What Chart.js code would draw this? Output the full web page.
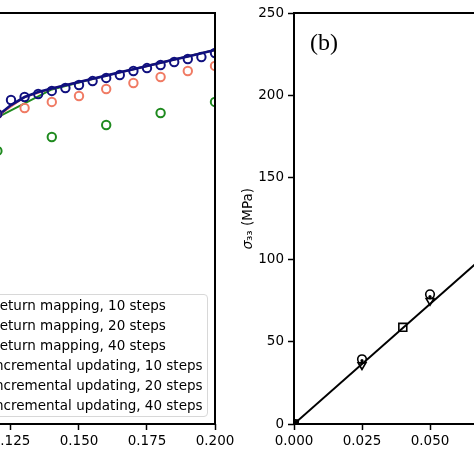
<!DOCTYPE html>
<html lang="en">
<head>
<meta charset="UTF-8">
<title>Stress-strain comparison</title>
<script src="https://cdn.jsdelivr.net/npm/chart.js"></script>
<style>
  body { margin: 0; background: #fff; }
  #fig { position: relative; width: 474px; height: 474px; overflow: hidden; background: #fff; font-family: "DejaVu Sans", sans-serif; }
  #fig canvas { position: absolute; top: 0; }
  #legenda { position: absolute; left: -60px; top: 294px; width: 268px; height: 123px; border: 1px solid #d8d8d8; border-radius: 4px; background: rgba(255,255,255,0.8); box-sizing: border-box; }
  #legenda div { position: absolute; left: 50px; height: 20px; line-height: 20px; font-size: 13.5px; white-space: nowrap; color: #000; }
</style>
</head>
<body>
<div id="fig">
  <canvas id="painelA" width="342" height="474"></canvas>
  <canvas id="painelB" width="356" height="474"></canvas>
  <div id="legenda"></div>
</div>

<script>
// ---- painel (a): deformacao x tensao, so a parte visivel ----
const labelsA = [
  'Return mapping, 10 steps',
  'Return mapping, 20 steps',
  'Return mapping, 40 steps',
  'Incremental updating, 10 steps',
  'Incremental updating, 20 steps',
  'Incremental updating, 40 steps'
];
const coresA = ['#1e8a1e', '#f07b64', '#10107f'];

const eps10 = [0.12, 0.14, 0.16, 0.18, 0.20];
const eps20 = [0.12, 0.13, 0.14, 0.15, 0.16, 0.17, 0.18, 0.19, 0.20];
const eps40 = [0.120, 0.125, 0.130, 0.135, 0.140, 0.145, 0.150, 0.155, 0.160,
               0.165, 0.170, 0.175, 0.180, 0.185, 0.190, 0.195, 0.200];

const rm10 = [186.5, 203.5, 211.9, 219.7, 227.5];
const rm20 = [187.3, 198.9, 204.1, 208.0, 211.9, 215.8, 219.7, 223.6, 227.5];
const rm40 = [187.3, 194.0, 198.9, 201.9, 204.1, 206.0, 208.0, 210.0, 211.9,
              213.9, 215.8, 217.8, 219.7, 221.7, 223.6, 225.5, 227.5];
const iu10 = [166.1, 174.6, 181.9, 189.2, 195.9];
const iu20 = [188.6, 192.2, 195.9, 199.5, 203.8, 207.4, 211.1, 214.7, 217.8];
const iu40 = [188.6, 197.1, 198.9, 200.7, 202.6, 204.4, 206.2, 208.6, 210.5,
              212.3, 214.7, 216.5, 218.4, 220.2, 222.0, 223.2, 225.7];

// ---- painel (b) ----
const linhaX = [0, 0.07];
const linhaY = [0, 102.2];
const circX = [0, 0.025, 0.05];
const circY = [0, 39.4, 78.9];
const triX = [0, 0.025, 0.05];
const triY = [0, 35.9, 75.0];
const quadX = [0, 0.04];
const quadY = [0, 58.8];
const pontoX = [0.025, 0.05];
const pontoY = [38.5, 77.5];

Chart.defaults.font.family = '"DejaVu Sans", sans-serif';
Chart.defaults.font.size = 13.5;
Chart.defaults.color = '#000';

const pares = (xs, ys) => xs.map((x, i) => ({ x: x, y: ys[i] }));

// moldura preta em volta da area do grafico (spines)
const moldura = {
  id: 'moldura',
  afterDatasetsDraw(chart) {
    const { ctx, chartArea: a } = chart;
    ctx.save();
    ctx.strokeStyle = '#000';
    ctx.lineWidth = 2;
    ctx.strokeRect(a.left, a.top, a.right - a.left, a.bottom - a.top);
    ctx.restore();
  }
};

const rotuloB = {
  id: 'rotuloB',
  afterDraw(chart) {
    const { ctx, chartArea: a } = chart;
    ctx.save();
    ctx.font = '24px "Liberation Serif", serif';
    ctx.fillStyle = '#000';
    ctx.textBaseline = 'alphabetic';
    ctx.fillText('(b)', a.left + 16, a.top + 37);
    ctx.restore();
  }
};

function eixoX(min, max) {
  return {
    type: 'linear', min: min, max: max,
    afterFit: s => { s.height = 50; },
    grid: { drawOnChartArea: false, tickLength: 6, tickWidth: 1.5, tickColor: '#000', color: '#000' },
    border: { display: false },
    ticks: { stepSize: 0.025, padding: 3, maxRotation: 0, callback: v => v.toFixed(3) }
  };
}
function eixoY(largura, titulo) {
  return {
    min: 0, max: 250,
    afterFit: s => { s.width = largura; },
    grid: { drawOnChartArea: false, tickLength: 6, tickWidth: 1.5, tickColor: '#000', color: '#000' },
    border: { display: false },
    ticks: { stepSize: 50, padding: 4 },
    title: { display: !!titulo, text: titulo || '', padding: 0, font: { size: 13.5 } }
  };
}
function opcoes(eX, eY) {
  return {
    responsive: false, animation: false, devicePixelRatio: 1,
    layout: { padding: { top: 13, right: 30, left: 0, bottom: 0 } },
    plugins: { legend: { display: false }, tooltip: { enabled: false } },
    scales: { x: eX, y: eY }
  };
}

// linhas (return mapping) e circulos (incremental updating)
const dsA = [];
[[eps10, rm10], [eps20, rm20], [eps40, rm40]].forEach((d, i) => {
  dsA.push({
    label: labelsA[i], data: pares(d[0], d[1]), showLine: true,
    borderColor: coresA[i], borderWidth: i === 2 ? 2.6 : 2, pointRadius: 0,
    clip: 0, order: 6 - i
  });
});
[[eps10, iu10], [eps20, iu20], [eps40, iu40]].forEach((d, i) => {
  dsA.push({
    label: labelsA[i + 3], data: pares(d[0], d[1]), showLine: false,
    borderColor: coresA[i], backgroundColor: 'transparent', borderWidth: 2,
    pointRadius: 4.2, pointStyle: 'circle', clip: 0, order: 3 - i
  });
});

const canvasA = document.getElementById('painelA');
const graficoA = new Chart(canvasA, {
  type: 'scatter',
  data: { datasets: dsA },
  options: opcoes(eixoX(0.1, 0.2), eixoY(40, '')),
  plugins: [moldura]
});

const preto = '#000';
const canvasB = document.getElementById('painelB');
const graficoB = new Chart(canvasB, {
  type: 'scatter',
  data: {
    datasets: [
      { label: 'Analytical', data: pares(linhaX, linhaY), showLine: true, borderColor: preto, borderWidth: 2, pointRadius: 0, clip: 0, order: 5 },
      { label: 'Circle', data: pares(circX, circY), borderColor: preto, backgroundColor: 'transparent', borderWidth: 1.6, pointRadius: 4.3, pointStyle: 'circle', clip: 0, order: 4 },
      { label: 'Triangle', data: pares(triX, triY), borderColor: preto, backgroundColor: 'transparent', borderWidth: 1.6, pointRadius: 4.5, pointStyle: 'triangle', rotation: 180, clip: 0, order: 3 },
      { label: 'Square', data: pares(quadX, quadY), borderColor: preto, backgroundColor: 'transparent', borderWidth: 1.6, pointRadius: 5.6, pointStyle: 'rect', clip: 0, order: 2 },
      { label: 'Point', data: pares(pontoX, pontoY), borderColor: preto, backgroundColor: preto, borderWidth: 0, pointRadius: 1.6, clip: 0, order: 1 }
    ]
  },
  options: opcoes(eixoX(0, 0.1), eixoY(54, '𝜎₃₃ (MPa)')),
  plugins: [moldura, rotuloB]
});

// alinha as areas dos graficos com o recorte da figura
function posiciona(chart, canvas, alvoX, porDireita) {
  const a = chart.chartArea;
  canvas.style.left = (porDireita ? alvoX - a.right : alvoX - a.left) + 'px';
  canvas.style.top = (13 - a.top) + 'px';
}
posiciona(graficoA, canvasA, 215, true);
posiciona(graficoB, canvasB, 294, false);

// legenda do painel (a), cortada a esquerda como na figura
const legenda = document.getElementById('legenda');
labelsA.forEach((txt, i) => {
  const linha = document.createElement('div');
  linha.style.top = (20 * i) + 'px';
  linha.textContent = txt;
  legenda.appendChild(linha);
});
</script>
</body>
</html>
